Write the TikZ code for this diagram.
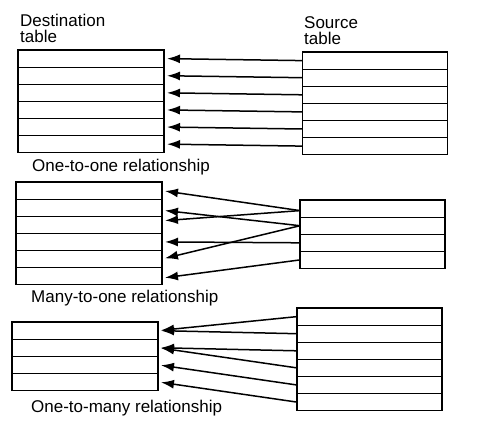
\documentclass[tikz,border=0pt]{standalone}
\usepackage{fontspec}
\setmainfont{Liberation Sans}
\usetikzlibrary{math}
\usetikzlibrary{arrows.meta}
\tikzset{lbl/.style={font=\fontsize{17}{16}\selectfont, inner sep=0pt, align=left}}
\tikzset{ma/.style={->, >={Latex[length=13pt,width=9pt]}, line width=1.5pt, shorten >=3pt}}

\begin{document}
\begin{tikzpicture}[x=1pt, y=-1pt]
\tikzset{
  base/.style={draw, line width=1.3pt, inner sep=0pt, outer sep=0pt, minimum height=\h pt},
  drow/.style={base, minimum width=146pt},
  srow/.style={base, minimum width=145pt},
}

\tikzmath{\h=17.1;}

\useasboundingbox (0,0) rectangle (494,432);

% one-to-one
\node[lbl, anchor=north west] (dtitle) at (20, 13.5) {Destination\\table};
\node[lbl, anchor=north west] (stitle) at (304, 16.5) {Source\\table};

\node[drow] (da1) at (91, 58.6) {};
\node[drow] (da2) at (91, {58.6+\h}) {};
\node[drow] (da3) at (91, {58.6+2*\h}) {};
\node[drow] (da4) at (91, {58.6+3*\h}) {};
\node[drow] (da5) at (91, {58.6+4*\h}) {};
\node[drow] (da6) at (91, {58.6+5*\h}) {};

\node[srow] (sa1) at (375, 60.6) {};
\node[srow] (sa2) at (375, {60.6+\h}) {};
\node[srow] (sa3) at (375, {60.6+2*\h}) {};
\node[srow] (sa4) at (375, {60.6+3*\h}) {};
\node[srow] (sa5) at (375, {60.6+4*\h}) {};
\node[srow] (sa6) at (375, {60.6+5*\h}) {};

\draw[ma] (sa1.west) -- (da1.east);
\draw[ma] (sa2.west) -- (da2.east);
\draw[ma] (sa3.west) -- (da3.east);
\draw[ma] (sa4.west) -- (da4.east);
\draw[ma] (sa5.west) -- (da5.east);
\draw[ma] (sa6.west) -- (da6.east);

\node[lbl, anchor=base west] (onetoone) at (32, 171.5) {One-to-one relationship};

% many-to-one
\node[drow] (db1) at (89, 190.6) {};
\node[drow] (db2) at (89, {190.6+\h}) {};
\node[drow] (db3) at (89, {190.6+2*\h}) {};
\node[drow] (db4) at (89, {190.6+3*\h}) {};
\node[drow] (db5) at (89, {190.6+4*\h}) {};
\node[drow] (db6) at (89, {190.6+5*\h}) {};

\node[srow] (sb1) at (372.5, 208.6) {};
\node[srow] (sb2) at (372.5, {208.6+\h}) {};
\node[srow] (sb3) at (372.5, {208.6+2*\h}) {};
\node[srow] (sb4) at (372.5, {208.6+3*\h}) {};

\draw[ma] ([yshift=-2pt]sb1.west) -- (db1.east);
\draw[ma] ([yshift=-2pt]sb1.west) -- ([yshift=4pt]db3.east);
\draw[ma] (sb2.west) -- ([yshift=-2.5pt]db2.east);
\draw[ma] (sb2.west) -- (db5.east);
\draw[ma] (sb3.west) -- (db4.east);
\draw[ma] (sb4.west) -- ([yshift=-2pt]db6.east);

\node[lbl, anchor=base west] (manytoone) at (31, 302) {Many-to-one relationship};

% one-to-many
\node[drow] (dc1) at (85, 330.6) {};
\node[drow] (dc2) at (85, {330.6+\h}) {};
\node[drow] (dc3) at (85, {330.6+2*\h}) {};
\node[drow] (dc4) at (85, {330.6+3*\h}) {};

\node[srow] (sc1) at (369.5, 316.6) {};
\node[srow] (sc2) at (369.5, {316.6+\h}) {};
\node[srow] (sc3) at (369.5, {316.6+2*\h}) {};
\node[srow] (sc4) at (369.5, {316.6+3*\h}) {};
\node[srow] (sc5) at (369.5, {316.6+4*\h}) {};
\node[srow] (sc6) at (369.5, {316.6+5*\h}) {};

\draw[ma] (sc1.west) -- (dc1.east);
\draw[ma] (sc2.west) -- (dc1.east);
\draw[ma] (sc3.west) -- (dc2.east);
\draw[ma] (sc4.west) -- (dc2.east);
\draw[ma] (sc5.west) -- (dc3.east);
\draw[ma] (sc6.west) -- (dc4.east);

\node[lbl, anchor=base west] (onetomany) at (31, 412) {One-to-many relationship};
\end{tikzpicture}
\end{document}
